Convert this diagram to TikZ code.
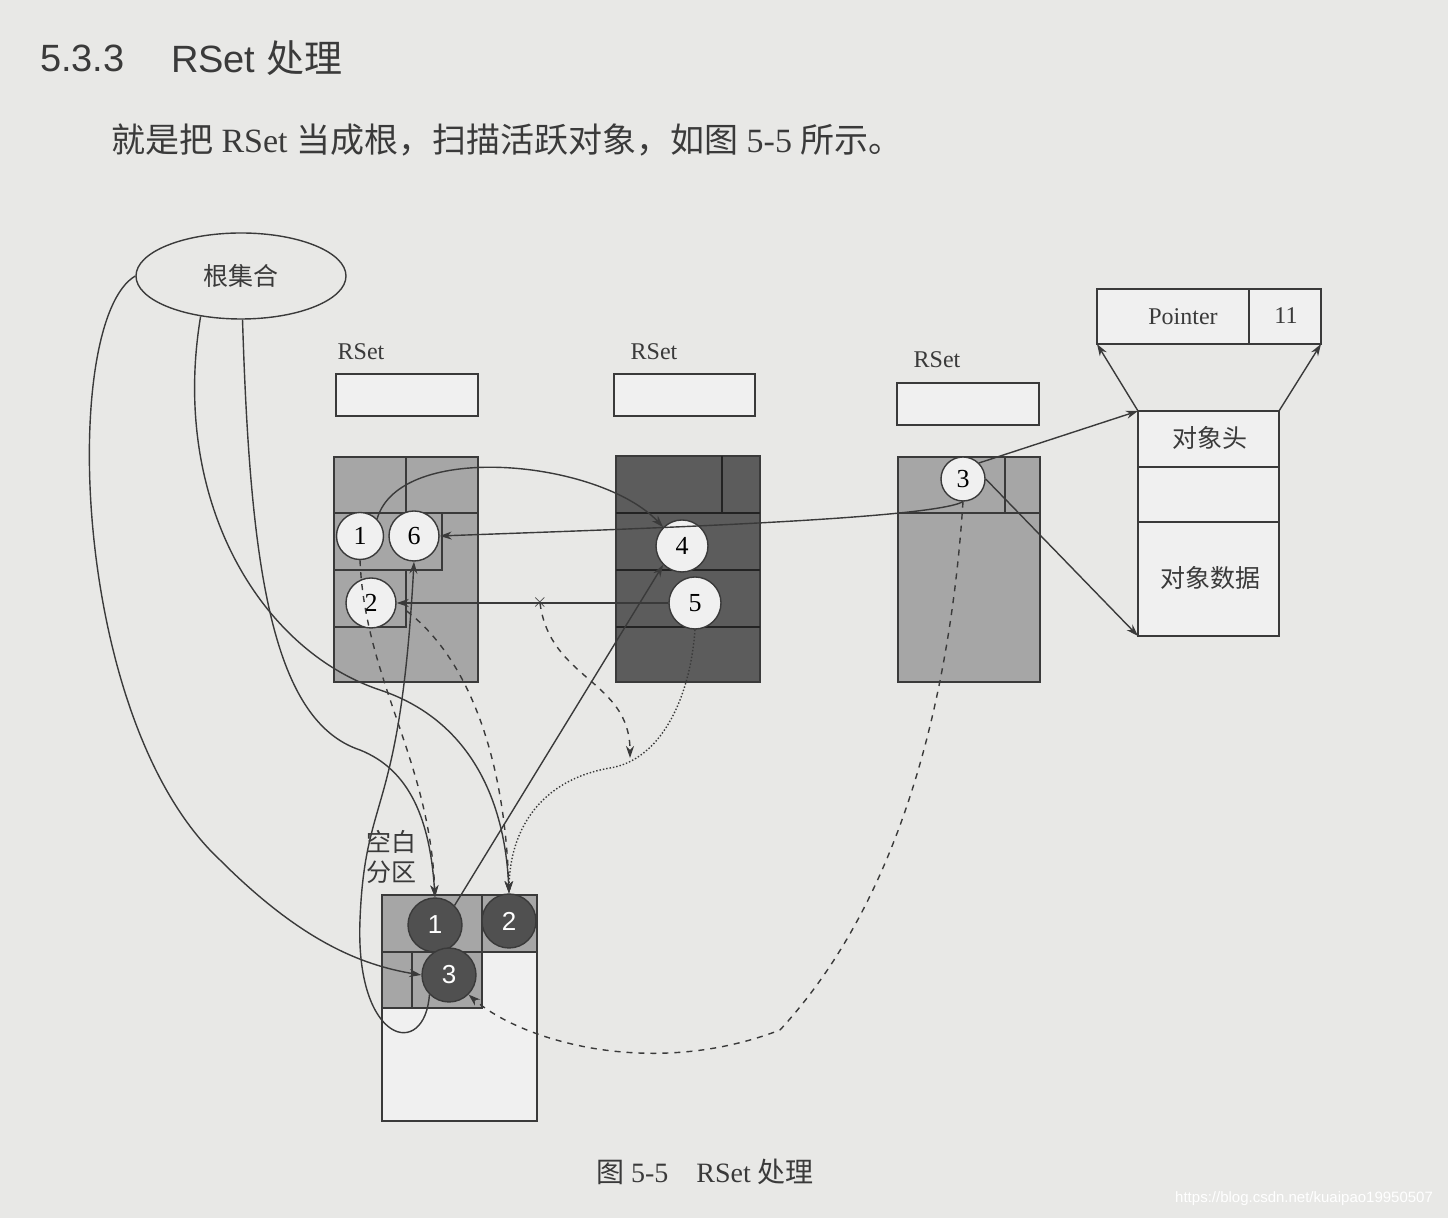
\documentclass[tikz,border=0pt]{standalone}
\usepackage{fontspec}
\setmainfont{Liberation Serif}
\newfontfamily\cjk{Noto Sans CJK SC}
\newfontfamily\hsans{Liberation Sans}
\usetikzlibrary{shapes.geometric,arrows.meta}
\definecolor{bg}{HTML}{E8E8E6}
\definecolor{ink}{HTML}{3A3A3A}
\definecolor{midg}{HTML}{A6A6A6}
\definecolor{darkg}{HTML}{5C5C5C}
\definecolor{ballg}{HTML}{505050}
\tikzset{
  ln/.style={draw=ink, line width=0.7pt},
  arr/.style={ln, -{Stealth[length=6pt,width=4pt]}},
  wball/.style={circle, draw=ink, fill=white!94!black, line width=0.7pt, inner sep=0pt, font=\fontsize{13}{13}\selectfont},
  dball/.style={circle, draw=ink, fill=ballg, text=white, line width=0.7pt, inner sep=0pt, font=\hsans\fontsize{13}{13}\selectfont},
  lbl/.style={font=\fontsize{12}{12}\selectfont, text=ink},
  cj/.style={font=\cjk\fontsize{12.5}{15}\selectfont, text=ink},
}
\begin{document}
\begin{tikzpicture}[x=0.5pt,y=-0.5pt]
\fill[bg] (0,0) rectangle (1448,1218);
\useasboundingbox (0,0) rectangle (1448,1218);
% heading and sentence
\node[anchor=west, text=ink, font=\hsans\fontsize{19}{19}\selectfont] (h1) at (33,58) {5.3.3};
\node[anchor=west, text=ink, font=\hsans\fontsize{19}{19}\selectfont] (h2) at (164,58) {RSet {\cjk 处理}};
\node[anchor=west, text=ink, font=\fontsize{17}{17}\selectfont] (s1) at (104,140) {{\cjk 就是把} RSet {\cjk 当成根，扫描活跃对象，如图} 5-5 {\cjk 所示。}};
% root ellipse
\node[ellipse, ln, minimum width=105, minimum height=43, fill=bg, cj] (root) at (241,276) {根集合};
% Region A
\node[lbl] (ra) at (361,352) {RSet};
\draw[ln, fill=white!94!black] (336,374) rectangle (478,416);
\draw[ln, fill=midg] (334,457) rectangle (478,682);
\draw[ln] (406,457) -- (406,513) (334,513) -- (478,513) (442,513) -- (442,570) -- (334,570) (406,570) -- (406,627) -- (334,627);
\node[wball, minimum size=23.5] (a1) at (360,536) {1};
\node[wball, minimum size=25] (a6) at (414,536) {6};
\node[wball, minimum size=25] (a2) at (371,603) {2};
% Region B
\node[lbl] (rb) at (654,352) {RSet};
\draw[ln, fill=white!94!black] (614,374) rectangle (755,416);
\draw[ln, fill=darkg] (616,456) rectangle (760,682);
\draw[ink!60!black, line width=0.6pt] (722,456) -- (722,513) (616,513) -- (760,513) (616,570) -- (760,570) (616,627) -- (760,627);
\node[wball, minimum size=26] (b4) at (682,546) {4};
\node[wball, minimum size=26] (b5) at (695,603) {5};
% Region C
\node[lbl] (rc) at (937,360) {RSet};
\draw[ln, fill=white!94!black] (897,383) rectangle (1039,425);
\draw[ln, fill=midg] (898,457) rectangle (1040,682);
\draw[ln] (898,513) -- (1040,513) (1005,457) -- (1005,513);
\node[wball, minimum size=22] (c3) at (963,479) {3};
% Object
\draw[ln, fill=white!94!black] (1097,289) rectangle (1321,344);
\draw[ln] (1249,289) -- (1249,344);
\node[lbl] (ptr) at (1183,317) {Pointer};
\node[lbl] (eleven) at (1286,316) {11};
\draw[ln, fill=white!94!black] (1138,411) rectangle (1279,636);
\draw[ln] (1138,467) -- (1279,467) (1138,522) -- (1279,522);
\node[cj] (oh) at (1210,438) {对象头};
\node[cj] (od) at (1210,578) {对象数据};
\coordinate (otl) at (1138,411);
\coordinate (otr) at (1279,411);
\coordinate (obl) at (1138,636);
\coordinate (ptl) at (1097,344);
\coordinate (ptr2) at (1321,344);
\draw[arr] (otl) -- (ptl);
\draw[arr] (otr) -- (ptr2);
\draw[arr] (c3.north east) -- (otl);
\draw[arr] (c3.east) -- (obl);
% Region D (empty partition)
\draw[ln, fill=white!94!black] (382,895) rectangle (537,1121);
\draw[ln, fill=midg] (382,895) rectangle (482,952);
\draw[ln, fill=midg] (482,895) rectangle (537,952);
\draw[ln, fill=midg] (382,952) rectangle (412,1008);
\draw[ln, fill=midg] (412,952) rectangle (482,1008);
\node[dball, minimum size=27] (d1) at (435,925) {1};
\node[dball, minimum size=27] (d2) at (509,921) {2};
\node[dball, minimum size=27] (d3) at (449,975) {3};
\node[cj, align=left] (kb) at (391,857) {空白\\分区};
% connectors: solid
\draw[arr] (c3.south) .. controls (930,520) and (600,530) .. (a6.east);
\coordinate (x) at (540,603);
\draw[arr] (b5.west) -- (x) -- (a2.east);
\node[text=ink, font=\fontsize{10}{10}\selectfont] (xm) at (x) {$\times$};
\draw[arr] (a1.north east) .. controls (400,440) and (600,460) .. (b4.north west);
\draw[arr] (d1.north east) -- (b4.south west);
\draw[arr] (root.west) .. controls (60,320) and (70,720) .. (220,860) .. controls (300,940) and (360,965) .. (d3.west);
\draw[arr] (root.225) .. controls (170,500) and (260,650) .. (380,690) .. controls (470,720) and (505,800) .. (d2.north);
\draw[arr] (root.272) .. controls (250,560) and (270,720) .. (360,750) .. controls (410,770) and (430,820) .. (d1.north);
\draw[arr] (d3.south west) .. controls (425,1060) and (355,1045) .. (360,920) .. controls (365,790) and (400,820) .. (a6.south);
% connectors: dashed / dotted
\draw[arr, dashed] (a1.south) .. controls (365,680) and (430,760) .. (d1.north);
\draw[arr, dashed] (a2.east) ++(10,8) .. controls (470,660) and (505,760) .. (d2.north);
\coordinate (xe) at (630,758);
\draw[arr, dashed] (x) .. controls (550,680) and (630,680) .. (xe);
\draw[arr, densely dotted] (b5.south) .. controls (690,700) and (660,760) .. (610,768) .. controls (540,780) and (510,830) .. (d2.north);
\draw[arr, dashed] (c3.south) .. controls (950,700) and (900,900) .. (780,1030) .. controls (650,1080) and (520,1040) .. (d3.south east);
% caption
\node[text=ink, font=\fontsize{14}{14}\selectfont] (cap) at (705,1172) {{\cjk 图} 5-5\quad RSet {\cjk 处理}};
\node[anchor=east, text=white, font=\hsans\fontsize{7.5}{8}\selectfont] (wm) at (1440,1199) {https://blog.csdn.net/kuaipao19950507};
\end{tikzpicture}
\end{document}
